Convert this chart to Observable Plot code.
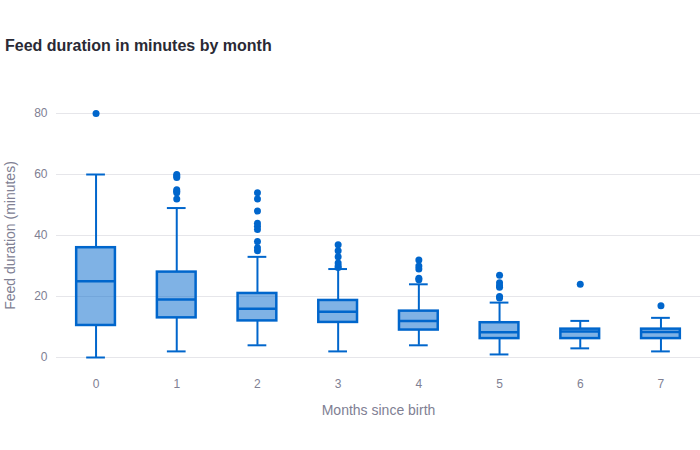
<!DOCTYPE html>
<html><head><meta charset="utf-8">
<script src="https://cdn.jsdelivr.net/npm/d3@7"></script>
<script src="https://cdn.jsdelivr.net/npm/@observablehq/plot@0.6"></script>
<style>
body{margin:0;background:#fff;font-family:"Liberation Sans",Arial,sans-serif;}
#title{margin:0;padding:36px 0 0 5px;height:20px;line-height:20px;font-size:16px;font-weight:bold;color:#2a2a35;}
#chart svg{display:block;}
</style></head><body>
<div id="title">Feed duration in minutes by month</div>
<div id="chart"></div>
<script>
const months = [0, 1, 2, 3, 4, 5, 6, 7];
const lowWhisker = [0, 2, 4, 2, 4, 1, 3, 2];
const q1 = [10.5, 13, 12, 11.5, 9, 6.2, 6.2, 6.2];
const median = [25, 19, 16, 15, 12, 8.3, 8.5, 8.4];
const q3 = [36, 28, 21, 18.7, 15.2, 11.4, 9.3, 9.3];
const highWhisker = [60, 49, 33, 29, 24, 18, 12, 13];
const outliers = [
  [80],
  [60, 59.5, 59, 55, 54.5, 54, 52],
  [54, 52, 48, 44, 43, 42, 38, 36, 35],
  [37, 35, 33, 31, 30, 29.5],
  [32, 30, 29, 26, 25.5],
  [27, 24.5, 23.5, 23, 20, 19.5],
  [24],
  [17]
];
const yTicks = [0, 20, 40, 60, 80];

const boxes = months.map((m, i) => ({month: m, lo: lowWhisker[i], q1: q1[i], med: median[i], q3: q3[i], hi: highWhisker[i]}));
const outlierPoints = months.flatMap((m, i) => outliers[i].map(v => ({month: m, value: v})));
const blue = "#0066cc";

const chart = Plot.plot({
  width: 700, height: 394,
  marginLeft: 56, marginRight: 0, marginTop: 57, marginBottom: 93,
  style: {fontFamily: "'Liberation Sans', Arial, sans-serif", fontSize: "12px", color: "#808093", background: "#fff"},
  x: {type: "band", domain: months, paddingInner: 0.52, paddingOuter: 0.25, round: false},
  y: {domain: [0, 80]},
  marks: [
    Plot.gridY(yTicks, {stroke: "#e6e6ea", strokeOpacity: 1, strokeWidth: 1}),
    Plot.axisY(yTicks, {tickSize: 0, tickPadding: 9, label: "Feed duration (minutes)", labelArrow: false, labelAnchor: "center", labelOffset: 51}),
    Plot.axisX({tickSize: 0, tickPadding: 22, label: "Months since birth", labelArrow: false, labelAnchor: "center", labelOffset: 57}),
    Plot.ruleX(boxes, {x: "month", y1: "lo", y2: "q1", stroke: blue, strokeWidth: 2}),
    Plot.ruleX(boxes, {x: "month", y1: "q3", y2: "hi", stroke: blue, strokeWidth: 2}),
    Plot.barY(boxes, {x: "month", y1: "q1", y2: "q3", fill: blue, fillOpacity: 0.5, stroke: blue, strokeWidth: 2.5}),
    Plot.tickY(boxes, {x: "month", y: "med", stroke: blue, strokeWidth: 2.5}),
    Plot.tickY(boxes, {x: "month", y: "lo", stroke: blue, strokeWidth: 2, insetLeft: 10, insetRight: 10}),
    Plot.tickY(boxes, {x: "month", y: "hi", stroke: blue, strokeWidth: 2, insetLeft: 10, insetRight: 10}),
    Plot.dot(outlierPoints, {x: "month", y: "value", r: 3.5, fill: blue})
  ]
});
d3.select(chart).selectAll('g[aria-label$="axis label"]').attr("font-size", 14);
document.getElementById("chart").appendChild(chart);
</script>
</body></html>
